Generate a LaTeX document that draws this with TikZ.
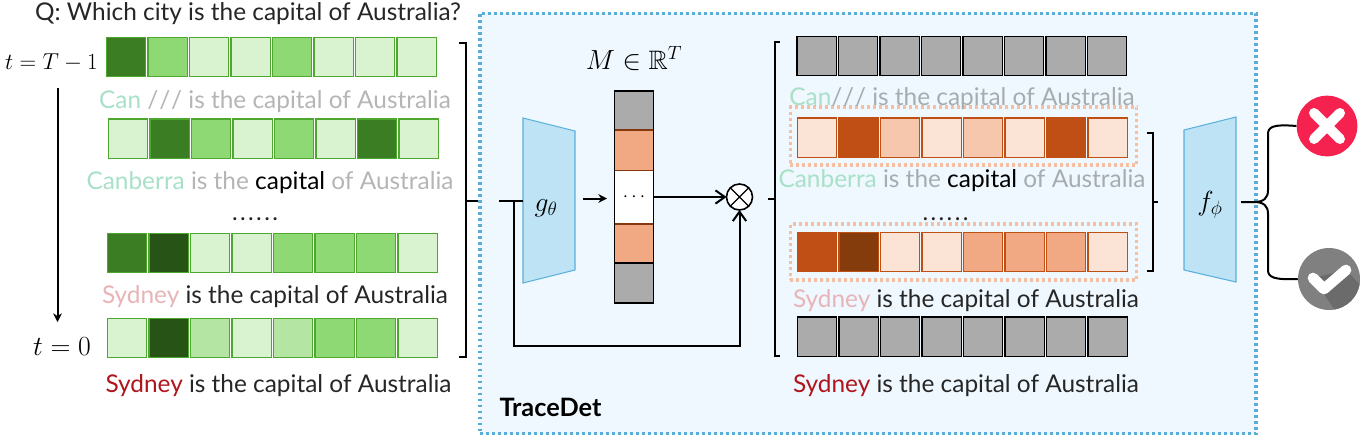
\documentclass[tikz,border=0pt]{standalone}
\usepackage{fontspec}
\usepackage{amssymb}
\setmainfont{Lato}
\usetikzlibrary{positioning, arrows.meta}

\definecolor{gA}{HTML}{D9F2D0}
\definecolor{gB}{HTML}{B4E5A2}
\definecolor{gC}{HTML}{8ED973}
\definecolor{gD}{HTML}{3B7D23}
\definecolor{gE}{HTML}{275317}
\definecolor{gline}{HTML}{4EA72E}
\definecolor{oA}{HTML}{FBE3D6}
\definecolor{oB}{HTML}{F6C6AD}
\definecolor{oC}{HTML}{F1A983}
\definecolor{oD}{HTML}{C04F15}
\definecolor{oE}{HTML}{843C0C}
\definecolor{grayc}{HTML}{ABABAB}
\definecolor{boxblue}{HTML}{5AADD6}
\definecolor{boxfill}{HTML}{EFF8FE}
\definecolor{encfill}{HTML}{BEE3F5}
\definecolor{encline}{HTML}{5AB0DD}
\definecolor{cityg}{HTML}{A8E0C8}
\definecolor{cityr}{HTML}{E8B4B8}
\definecolor{cityd}{HTML}{B0141C}
\definecolor{faded}{HTML}{B5B5B5}
\definecolor{fadedb}{HTML}{A6ADB0}
\definecolor{dotbox}{HTML}{F4BFA2}
\definecolor{noicon}{HTML}{F5224F}

\tikzset{
  cellbase/.style={draw, rectangle, minimum size=29.5pt, inner sep=0pt, outer sep=0pt},
  gcell/.style={cellbase, fill=#1, draw=gline, line width=1pt},
  ocell/.style={cellbase, fill=#1, draw=oD, line width=1pt},
  kcell/.style={cellbase, fill=#1, draw=black, line width=1pt},
  sent/.style={inner sep=0pt, font=\fontsize{18.3pt}{20pt}\selectfont, text=black!85},
  dotrow/.style={inner sep=0pt, font=\fontsize{18pt}{20pt}\selectfont\addfontfeature{LetterSpace=10}, text=black!85},
  mathlab/.style={inner sep=0pt, font=\fontsize{#1}{24pt}\selectfont},
  encoder/.style={draw=encline, fill=encfill, line width=.8pt},
  link/.style={draw=black, line width=1.5pt},
  dotted box/.style={draw=#1, dash pattern=on 2.2pt off 2.3pt, line width=2.4pt, inner sep=0pt, outer sep=0pt},
  mcell/.style={draw=black, fill=#1, line width=1.1pt, rectangle, inner sep=0pt, outer sep=0pt, minimum width=29.5pt},
  solidtip/.style={-{Stealth[length=6.5pt,width=6.5pt]}},
  opentip/.style={-{Straight Barb[length=7pt,width=10pt]}},
}

% one row of eight cells: name, style, x, y, colours
\newcommand{\cellrow}[5]{
  \foreach \c [count=\i] in {#5} {
    \node[#2=\c] (#1\i) at ({#3+41.5*(\i-1)},#4) {};
  }
}

\begin{document}
\begin{tikzpicture}[x=0.75pt, y=-0.75pt]
    \useasboundingbox (0,0) rectangle (1363,440);

    % TraceDet panel
    \node[dotted box=boxblue, fill=boxfill, minimum width=582pt, minimum height=315.5pt] (panel) at (868,223.5) {};
    \node[inner sep=0pt, font=\fontsize{19pt}{20pt}\selectfont\bfseries] (name) at (550.5,407) {TraceDet};

    % left side
    \node[sent] (q) at (248,14) {Q: Which city is the capital of Australia?};
    \node[mathlab=19pt] (tT) at (51.5,63) {$t=T-1$};
    \node[mathlab=20pt] (t0) at (62,347) {$t=0$};
    \coordinate (tstart) at (57.5,88);
    \coordinate (tend) at (57.5,322);
    \draw[link, solidtip] (tstart) -- (tend);

    \cellrow{la}{gcell}{126}{57}{gD,gC,gA,gA,gC,gA,gA,gA}
    \cellrow{lb}{gcell}{128}{138.5}{gA,gD,gC,gA,gC,gA,gD,gA}
    \cellrow{lc}{gcell}{127}{253}{gD,gE,gA,gA,gC,gC,gC,gA}
    \cellrow{ld}{gcell}{127}{338}{gA,gE,gB,gA,gB,gC,gC,gA}

    \node[sent, text=faded] (lta) at (275,101.5) {\textcolor{cityg}{Can} {/}\kern.6pt{/}\kern.6pt{/} is the capital of Australia};
    \node[sent, text=faded] (ltb) at (270,182.5) {\textcolor{cityg}{Canberra} is the \textcolor{black}{capital} of Australia};
    \node[dotrow] (ldots) at (255,219) {......};
    \node[sent] (ltc) at (275,296.5) {\textcolor{cityr}{Sydney} is the capital of Australia};
    \node[sent] (ltd) at (278.5,386) {\textcolor{cityd}{Sydney} is the capital of Australia};

    \coordinate (lbt) at (459,43);
    \coordinate (lbb) at (459,357);
    \coordinate (ltick) at (478,201);
    \draw[link] (lbt) -- (466,43) -- (466,357) -- (lbb);
    \draw[link] (466,201) -- (ltick);

    % g encoder
    \draw[encoder] (523,118) -- (575,131) -- (575,270) -- (523,283) -- cycle;
    \node[mathlab=21pt] (g) at (546,208) {$g_\theta$};
    \coordinate (gin) at (499,201);
    \coordinate (gedge) at (523,201);
    \coordinate (gdrop) at (514,201);
    \coordinate (gout) at (583,198.5);
    \coordinate (mtip) at (607,198.5);

    % mask column
    \node[mathlab=20pt] (mlabel) at (634,58) {$M\in\mathbb{R}^T$};
    \node[mcell=grayc, minimum height=29.5pt] (m1) at (634,110.5) {};
    \node[mcell=oC, minimum height=30.5pt, draw=oD!70!black] (m2) at (634,150.5) {};
    \node[mcell=white, minimum height=39.5pt, draw=none, font=\fontsize{14pt}{16pt}\selectfont] (m3) at (634,197.5) {$\cdots$};
    \node[mcell=oC, minimum height=29.5pt, draw=oD!70!black] (m4) at (634,243.5) {};
    \node[mcell=grayc, minimum height=30pt] (m5) at (634,283) {};
    \draw[link, line width=1.1pt] (m1.north west) rectangle (m5.south east);

    % product
    \node[draw=black, fill=white, circle, line width=1.2pt, minimum size=19.5pt, inner sep=0pt, outer sep=0pt] (prod) at (739.5,197) {};
    \draw[link, line width=1pt] (prod.north west) -- (prod.south east) (prod.north east) -- (prod.south west);

    \draw[link] (gin) -- (gedge);
    \draw[link, solidtip] (gout) -- (mtip);
    \draw[link, opentip] (m3.east |- prod) -- (prod);
    \draw[link, opentip] (gdrop) |- (739.5,346) -- (prod);

    % right side
    \cellrow{ra}{kcell}{816.5}{56}{grayc,grayc,grayc,grayc,grayc,grayc,grayc,grayc}
    \cellrow{rb}{ocell}{817}{137.5}{oA,oD,oB,oA,oB,oA,oD,oA}
    \cellrow{rc}{ocell}{817}{252}{oD,oE,oA,oA,oC,oC,oC,oA}
    \cellrow{rd}{kcell}{817}{336.5}{grayc,grayc,grayc,grayc,grayc,grayc,grayc,grayc}

    \node[dotted box=dotbox, minimum width=260pt, minimum height=43.5pt] (db1) at (963.5,136) {};
    \node[dotted box=dotbox, minimum width=260pt, minimum height=42pt] (db2) at (963.5,252) {};

    \node[sent, text=fadedb] (rta) at (962,98.5) {\textcolor{cityg}{Can}{/}\kern.6pt{/}\kern.6pt{/} is the capital of Australia};
    \node[sent, text=fadedb] (rtb) at (962,180.5) {\textcolor{cityg}{Canberra} is the \textcolor{black}{capital} of Australia};
    \node[dotrow] (rdots) at (945.5,219) {......};
    \node[sent] (rtc) at (966,300.5) {\textcolor{cityr}{Sydney} is the capital of Australia};
    \node[sent] (rtd) at (966,385.5) {\textcolor{cityd}{Sydney} is the capital of Australia};

    \draw[link] (780,42) -- (774.5,42) -- (774.5,356) -- (780,356);
    \draw[link] (768,199) -- (774.5,199);
    \draw[link] (1147,133) -- (1153,133) -- (1153,271) -- (1147,271);
    \draw[link] (1153,202) -- (1158,202);

    % f encoder
    \draw[encoder] (1184,130) -- (1236,117) -- (1236,282) -- (1184,270) -- cycle;
    \node[mathlab=21pt] (f) at (1210,205) {$f_\phi$};
    \coordinate (fout) at (1241,202);
    \coordinate (ftip) at (1254,202);

    % outcome icons
    \node[circle, fill=noicon, minimum size=45.5pt, inner sep=0pt] (no) at (1327,126) {};
    \draw[white, line width=7.5pt, line cap=round] (1314,113) -- (1340,139) (1340,113) -- (1314,139);
    \node[circle, fill=black!50, minimum size=46.5pt, inner sep=0pt] (yes) at (1329,279) {};
    \begin{scope}
      \clip (1329,279) circle (31);
      \fill[black!58] (1313,278) -- (1346,270) -- (1375,300) -- (1345,325) -- cycle;
    \end{scope}
    \draw[white, line width=8pt, line cap=round, line join=round] (1313,278) -- (1324,289) -- (1346,270);

    % brace
    \draw[link] (fout) -- (ftip) .. controls (1264,202) and (1268,198) .. (1268,190) -- (1268,134) .. controls (1268,127) and (1273,124) .. (no.west);
    \draw[link] (ftip) .. controls (1264,202) and (1268,206) .. (1268,214) -- (1268,270) .. controls (1268,277) and (1273,280) .. (yes.west);
\end{tikzpicture}
\end{document}
